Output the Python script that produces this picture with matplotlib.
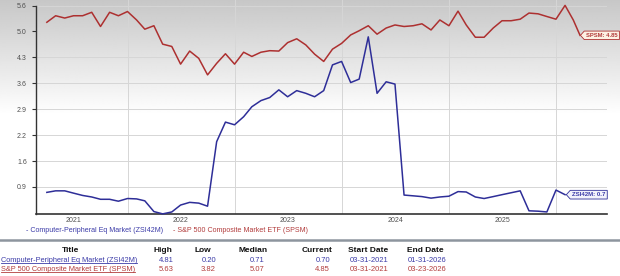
import numpy as np
import pandas as pd
import matplotlib
matplotlib.use('Agg')
import matplotlib.pyplot as plt
from matplotlib.path import Path
from matplotlib.lines import Line2D

# monthly values
zsi_dates = pd.date_range('2021-03-31', '2026-01-31', freq='ME')
zsi_values = [0.76, 0.80, 0.80, 0.74, 0.68, 0.64, 0.58, 0.58, 0.53, 0.60,
              0.59, 0.54, 0.26, 0.20, 0.25, 0.43, 0.50, 0.48, 0.40, 2.08,
              2.59, 2.52, 2.73, 2.99, 3.15, 3.23, 3.43, 3.25, 3.41, 3.34,
              3.25, 3.41, 4.08, 4.17, 3.62, 3.71, 4.81, 3.34, 3.64, 3.58,
              0.69, 0.67, 0.65, 0.61, 0.64, 0.66, 0.78, 0.77, 0.64, 0.60,
              0.65, 0.70, 0.75, 0.80, 0.28, 0.27, 0.25, 0.82, 0.70]

spsm_dates = list(pd.date_range('2021-03-31', '2026-02-28', freq='ME')) + [pd.Timestamp('2026-03-23')]
spsm_values = [5.19, 5.36, 5.30, 5.36, 5.36, 5.45, 5.08, 5.45, 5.36, 5.47,
               5.25, 5.01, 5.10, 4.62, 4.56, 4.10, 4.44, 4.25, 3.82, 4.12,
               4.37, 4.10, 4.41, 4.30, 4.41, 4.45, 4.44, 4.66, 4.76, 4.60,
               4.36, 4.17, 4.49, 4.64, 4.86, 4.97, 5.10, 4.88, 5.04, 5.12,
               5.08, 5.10, 5.15, 4.99, 5.25, 5.10, 5.48, 5.12, 4.80, 4.80,
               5.04, 5.23, 5.23, 5.27, 5.43, 5.41, 5.34, 5.27, 5.63, 5.25,
               4.85]

y_ticks = [0.9, 1.575, 2.25, 2.925, 3.6, 4.275, 4.95, 5.625]
y_labels = ['0.9', '1.6', '2.2', '2.9', '3.6', '4.3', '5.0', '5.6']
years = [2021, 2022, 2023, 2024, 2025]

legend_names = ['Computer-Peripheral Eq Market (ZSI42M)', 'S&P 500 Composite Market ETF (SPSM)']
table_header = ['Title', 'High', 'Low', 'Median', 'Current', 'Start Date', 'End Date']
table_rows = [
    ['Computer-Peripheral Eq Market (ZSI42M)', '4.81', '0.20', '0.71', '0.70', '03-31-2021', '01-31-2026'],
    ['S&P 500 Composite Market ETF (SPSM)', '5.63', '3.82', '5.07', '4.85', '03-31-2021', '03-23-2026'],
]

BLUE = '#2e2e98'
RED = '#ad3030'
BLUE_TXT = '#3c3ca8'
RED_TXT = '#b23c3c'
W, H = 620, 276


def fx(px):
    return px / W


def fy(py):
    return 1 - py / H


def tag_box(x0, y0, width, height, mutation_size):
    pad = mutation_size * 0.3
    x0, y0 = x0 - pad, y0 - pad
    x1, y1 = x0 + width + 2 * pad, y0 + height + 2 * pad
    tip = (y1 - y0) * 0.45
    ym = (y0 + y1) / 2
    return Path([(x0 - tip, ym), (x0, y0), (x1, y0), (x1, y1), (x0, y1), (x0 - tip, ym)], closed=True)


fig = plt.figure(figsize=(6.2, 2.76), dpi=100)

# grey-to-white backdrop behind the chart
bg = fig.add_axes([0, 0, 1, 1], zorder=-1)
shade = np.clip(np.arange(H) / 115.0, 0, 1)
gray = 0.78 + 0.22 * shade
bg.imshow(np.repeat(gray[:, None], 2, axis=1), cmap='gray', vmin=0, vmax=1,
          aspect='auto', extent=[0, 1, 0, 1], interpolation='bilinear')
bg.axis('off')

ax = fig.add_axes([fx(35.7), 1 - 214.3 / H, fx(607 - 35.7), 214.3 / H])
ax.set_facecolor('none')
ax.plot(zsi_dates, zsi_values, color=BLUE, lw=1.1, clip_on=False, zorder=3)
ax.plot(spsm_dates, spsm_values, color=RED, lw=1.1, clip_on=False, zorder=3)

ax.set_ylim(0.189, 5.77)
ax.set_xlim(pd.Timestamp('2021-02-21'), pd.Timestamp('2026-06-23'))

ax.set_yticks(y_ticks)
ax.set_yticklabels(y_labels)
ax.set_xticks([pd.Timestamp(f'{y}-07-01') for y in years])
ax.set_xticklabels([str(y) for y in years])
ax.set_xticks([pd.Timestamp(f'{y}-01-01') for y in range(2022, 2027)], minor=True)

ax.grid(axis='y', color='#d6d6d6', lw=0.7)
ax.grid(axis='x', which='minor', color='#d6d6d6', lw=0.7)
ax.tick_params(axis='y', length=3, width=0.8, color='#333333', pad=3.3,
               labelsize=5, labelcolor='#505050')
ax.tick_params(axis='x', which='both', length=0, pad=2, labelsize=5, labelcolor='#505050')
for lab in ax.get_xticklabels() + ax.get_yticklabels():
    lab.set_family('Liberation Sans')

for side in ['top', 'right']:
    ax.spines[side].set_visible(False)
ax.spines['left'].set_bounds(0.189, 5.625)
ax.spines['left'].set_color('#333333')
ax.spines['bottom'].set_color('#333333')
ax.spines['left'].set_linewidth(1.0)
ax.spines['bottom'].set_linewidth(1.2)

# end-of-line value tags
ax.annotate(f'SPSM: {spsm_values[-1]:g}', xy=(spsm_dates[-1], spsm_values[-1]),
            xytext=(6, 0), textcoords='offset pixels', ha='left', va='center',
            fontsize=4.2, fontweight='bold', color=RED_TXT, family='Liberation Sans',
            bbox=dict(boxstyle=tag_box, fc='#fdf1e4', ec=RED, lw=0.6),
            annotation_clip=False, zorder=5)
ax.annotate(f'ZSI42M: {zsi_values[-1]:g}', xy=(zsi_dates[-1], zsi_values[-1]),
            xytext=(7, 0), textcoords='offset pixels', ha='left', va='center',
            fontsize=4.4, fontweight='bold', color=BLUE_TXT, family='Liberation Sans',
            bbox=dict(boxstyle=tag_box, fc='#f2f2fb', ec=BLUE, lw=0.6),
            annotation_clip=False, zorder=5)

# legend line under the axis
fig.text(fx(26), fy(230.5), '- ' + legend_names[0], color=BLUE_TXT, fontsize=5.1,
         family='Liberation Sans', va='center', ha='left')
fig.text(fx(173), fy(230.5), '- ' + legend_names[1], color=RED_TXT, fontsize=5.1,
         family='Liberation Sans', va='center', ha='left')

fig.add_artist(Line2D([0, 1], [fy(240), fy(240)], transform=fig.transFigure,
                      color='#8d959e', lw=1.8))

# summary table
head_x = [70.3, 163.3, 203.3, 253.3, 317.5, 368.3, 425.7]
for txt, x in zip(table_header, head_x):
    fig.text(fx(x), fy(251.5), txt, ha='center', va='baseline', fontsize=6,
             fontweight='bold', family='Liberation Sans', color='#111111')

row_base = [261.5, 271.0]
row_colors = [BLUE_TXT, RED_TXT]
num_right = [173.3, 216, 264, 330]
date_left = [349.3, 407.3]
title_texts = []
for row, yb, col in zip(table_rows, row_base, row_colors):
    t = fig.text(fx(1), fy(yb), row[0], ha='left', va='baseline', fontsize=5.3,
                 family='Liberation Sans', color=col)
    title_texts.append((t, yb, col))
    for val, x in zip(row[1:5], num_right):
        fig.text(fx(x), fy(yb), val, ha='right', va='baseline', fontsize=5.5,
                 family='Liberation Sans', color=col)
    for val, x in zip(row[5:], date_left):
        fig.text(fx(x), fy(yb), val, ha='left', va='baseline', fontsize=5.5,
                 family='Liberation Sans', color=col)

fig.canvas.draw()
renderer = fig.canvas.get_renderer()
for t, yb, col in title_texts:
    bb = t.get_window_extent(renderer)
    fig.add_artist(Line2D([bb.x0 / W, bb.x1 / W], [fy(yb + 1.2)] * 2,
                          transform=fig.transFigure, color=col, lw=0.6))

fig.savefig('out.png', dpi=100)
